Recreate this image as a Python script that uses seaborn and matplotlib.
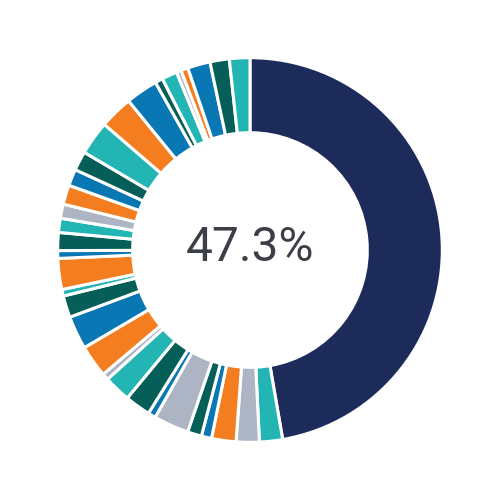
import matplotlib
matplotlib.use("Agg")
import matplotlib.pyplot as plt
import seaborn as sns

navy = "#1c2b5a"
teal = "#22b5b3"
gray = "#adb5c4"
orange = "#f47d20"
blue = "#0a77b5"
dkgreen = "#065e58"

main_share = 47.3
other_shares = [1.94, 1.94, 2.05, 0.86, 1.19, 2.95, 0.65, 2.16, 2.26, 0.55,
                2.7, 2.8, 1.83, 0.55, 2.6, 0.65, 1.51, 1.19, 1.19, 1.62,
                1.4, 1.62, 2.85, 2.8, 2.7, 0.65, 1.29, 0.4, 0.6, 1.9,
                1.62, 1.72]
other_colors = [teal, gray, orange, blue, dkgreen, gray, blue, dkgreen, teal, gray,
                orange, blue, dkgreen, teal, orange, blue, dkgreen, teal, gray, orange,
                blue, dkgreen, teal, orange, blue, dkgreen, teal, gray, orange, blue,
                dkgreen, teal]
center_label = "47.3%"

sns.set_theme(style="white")
plt.rcParams["font.family"] = ["Roboto", "DejaVu Sans"]

values = [main_share] + other_shares
colors = [navy] + other_colors

fig = plt.figure(figsize=(5, 5), dpi=100)
ax = fig.add_axes([0, 0, 1, 1])
ax.pie(values, colors=colors, startangle=90, counterclock=False,
       wedgeprops=dict(width=0.39, edgecolor="white", linewidth=2.2))
ax.text(0, 0.01, center_label, ha="center", va="center", fontsize=34.5, color="#3c3f47")
ax.set_xlim(-1.3, 1.3)
ax.set_ylim(-1.3, 1.3)
ax.set_aspect("equal")
ax.axis("off")
fig.savefig("out.png", dpi=100, facecolor="white")
plt.close(fig)
